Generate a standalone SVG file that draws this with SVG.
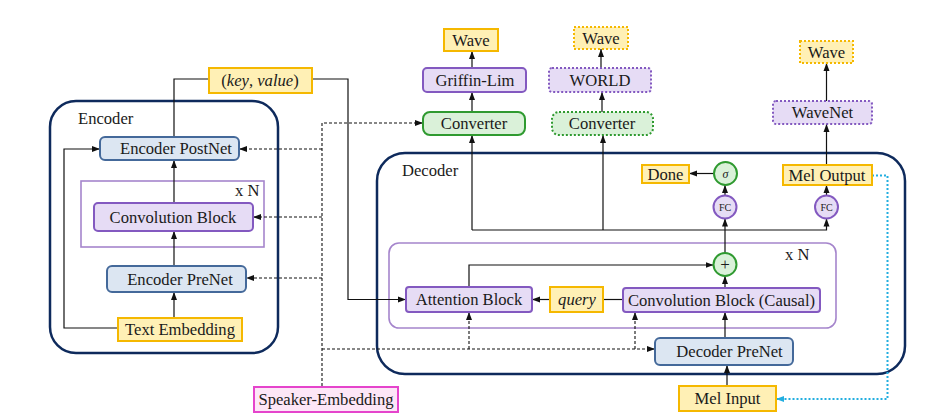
<svg xmlns="http://www.w3.org/2000/svg" width="942" height="420" viewBox="0 0 942 420">
<style>
.t{font-family:"Liberation Serif","Times New Roman",serif;font-size:16.6px;fill:#1a1a1a;text-anchor:middle}
.yel{fill:#fff0b5;stroke:#f5b800;stroke-width:2}
.blu{fill:#dce6f2;stroke:#44699a;stroke-width:2}
.pur{fill:#e6dcf5;stroke:#8359c0;stroke-width:2}
.grn{fill:#daf1d9;stroke:#2f9a30;stroke-width:2}
.dot{stroke-dasharray:2 2}
.outer{fill:none;stroke:#0e2a5c;stroke-width:2.5}
.rep{fill:none;stroke:#a585cc;stroke-width:1.6}
.ln{fill:none;stroke:#111;stroke-width:1.2}
.ds{fill:none;stroke:#111;stroke-width:1.1;stroke-dasharray:3 2}
.cy{fill:none;stroke:#22aee0;stroke-width:2;stroke-dasharray:2 2}
</style>
<defs>
<marker id="ah" viewBox="0 0 8 8" refX="8" refY="4" markerWidth="8" markerHeight="8" markerUnits="userSpaceOnUse" orient="auto"><path d="M0,1 L8,4 L0,7 z" fill="#111"/></marker>
<marker id="ahc" viewBox="0 0 8 8" refX="8" refY="4" markerWidth="8" markerHeight="8" markerUnits="userSpaceOnUse" orient="auto"><path d="M0,1 L8,4 L0,7 z" fill="#22aee0"/></marker>
</defs>
<rect width="942" height="420" fill="#fff"/>

<g id="encoder">
<rect class="outer" x="50" y="101" width="228" height="252" rx="26"/>
<text class="t" x="78" y="124" style="text-anchor:start">Encoder</text>
<rect class="rep" x="81" y="181" width="183" height="66"/>
<text class="t" x="235" y="196" style="text-anchor:start">x N</text>
</g>
<g id="decoder">
<rect class="outer" x="377" y="153" width="528" height="221" rx="28"/>
<text class="t" x="402" y="176" style="text-anchor:start">Decoder</text>
<rect class="rep" x="389" y="243" width="447" height="85" rx="10"/>
<text class="t" x="785" y="260" style="text-anchor:start">x N</text>
</g>

<g id="connectors">
<path class="ln" d="M174,318 V292" marker-end="url(#ah)"/>
<path class="ln" d="M174,266 V231" marker-end="url(#ah)"/>
<path class="ln" d="M174,203 V160" marker-end="url(#ah)"/>
<path class="ln" d="M118,328 H64 V149 H100" marker-end="url(#ah)"/>
<path class="ln" d="M174,137 V79 H209"/>
<path class="ln" d="M312,79 H348 V299.5 H406" marker-end="url(#ah)"/>
<path class="ds" d="M322,386 V123 H423" marker-end="url(#ah)"/>
<path class="ds" d="M322,149 H239" marker-end="url(#ah)"/>
<path class="ds" d="M322,217 H253" marker-end="url(#ah)"/>
<path class="ds" d="M322,278 H246" marker-end="url(#ah)"/>
<path class="ds" d="M322,349 H655" marker-end="url(#ah)"/>
<path class="ds" d="M469,349 V312" marker-end="url(#ah)"/>
<path class="ds" d="M635,349 V312" marker-end="url(#ah)"/>
<path class="ln" d="M472,68 V51" marker-end="url(#ah)"/>
<path class="ln" d="M472,112 V92" marker-end="url(#ah)"/>
<path class="ln" d="M472,230 V135" marker-end="url(#ah)"/>
<path class="ln" d="M603,230 V135" marker-end="url(#ah)"/>
<path class="ln" d="M601,68 V49" marker-end="url(#ah)"/>
<path class="ln" d="M602,112 V92" marker-end="url(#ah)"/>
<path class="ln" d="M472,230 H826.5 V218.5" marker-end="url(#ah)"/>
<path class="ln" d="M725,253 V218.5" marker-end="url(#ah)"/>
<path class="ln" d="M725,195.5 V185" marker-end="url(#ah)"/>
<path class="ln" d="M714,173.5 H689" marker-end="url(#ah)"/>
<path class="ln" d="M826.5,195.5 V185" marker-end="url(#ah)"/>
<path class="ln" d="M826.5,165 V124" marker-end="url(#ah)"/>
<path class="ln" d="M826.5,101 V63" marker-end="url(#ah)"/>
<path class="ln" d="M469,287 V265 H713.5" marker-end="url(#ah)"/>
<path class="ln" d="M725,288 V276" marker-end="url(#ah)"/>
<path class="ln" d="M725,338 V312" marker-end="url(#ah)"/>
<path class="ln" d="M727,386 V365" marker-end="url(#ah)"/>
<path class="ln" d="M623,299.5 H603"/>
<path class="ln" d="M550,299.5 H532" marker-end="url(#ah)"/>
<path class="cy" d="M872,175.5 H887.5 V399 H776" marker-end="url(#ahc)"/>
</g>

<g id="enc-postnet"><rect class="blu" x="100" y="137" width="139" height="23" rx="5"/><text class="t" x="176" y="154">Encoder PostNet</text></g>
<g id="enc-conv"><rect class="pur" x="94" y="203" width="159" height="28" rx="4"/><text class="t" x="173" y="222.5">Convolution Block</text></g>
<g id="enc-prenet"><rect class="blu" x="107" y="266" width="139" height="26" rx="5"/><text class="t" x="180" y="284.5">Encoder PreNet</text></g>
<g id="text-emb"><rect class="yel" x="118" y="318" width="124" height="23"/><text class="t" x="180" y="335">Text Embedding</text></g>
<g id="keyvalue"><rect class="yel" x="209" y="68" width="103" height="25"/><text class="t" x="260" y="86">(<tspan font-style="italic">key</tspan>, <tspan font-style="italic">value</tspan>)</text></g>
<g id="speaker"><rect x="254" y="387" width="144" height="25" fill="#fde6f7" stroke="#e544cc" stroke-width="2"/><text class="t" x="326" y="405">Speaker-Embedding</text></g>

<g id="wave1"><rect class="yel" x="444" y="29" width="54" height="22"/><text class="t" x="471" y="45.5">Wave</text></g>
<g id="griffin"><rect class="pur" x="423" y="68" width="103" height="24" rx="4"/><text class="t" x="475" y="85.5">Griffin-Lim</text></g>
<g id="converter1"><rect class="grn" x="423" y="112" width="102" height="23" rx="7"/><text class="t" x="474" y="129">Converter</text></g>
<g id="wave2"><rect class="yel dot" x="574" y="27" width="54" height="22"/><text class="t" x="601" y="43.5">Wave</text></g>
<g id="world"><rect class="pur dot" x="549" y="68" width="102" height="24" rx="3"/><text class="t" x="600" y="85.5">WORLD</text></g>
<g id="converter2"><rect class="grn dot" x="552" y="112" width="101" height="23" rx="7"/><text class="t" x="602" y="129">Converter</text></g>
<g id="wave3"><rect class="yel dot" x="800" y="41" width="53" height="22"/><text class="t" x="826.5" y="57.5">Wave</text></g>
<g id="wavenet"><rect class="pur dot" x="773" y="101" width="99" height="23" rx="3"/><text class="t" x="822.5" y="118">WaveNet</text></g>
<g id="mel-output"><rect class="yel" x="783" y="165" width="89" height="20"/><text class="t" x="827" y="180.5">Mel Output</text></g>
<g id="done"><rect class="yel" x="642" y="165" width="47" height="18"/><text class="t" x="665.5" y="179.5">Done</text></g>
<g id="sigma"><circle class="grn" cx="725.5" cy="173.5" r="11.5"/><text class="t" x="725.5" y="177.5" style="font-size:12px;font-style:italic">σ</text></g>
<g id="fc1"><circle class="pur" cx="725" cy="207" r="11.5"/><text class="t" x="725" y="210.5" style="font-size:10px">FC</text></g>
<g id="fc2"><circle class="pur" cx="826.5" cy="207" r="11.5"/><text class="t" x="826.5" y="210.5" style="font-size:10px">FC</text></g>
<g id="plus"><circle class="grn" cx="725" cy="264.5" r="11.5"/><text class="t" x="725" y="270" style="font-size:17px">+</text></g>
<g id="attention"><rect class="pur" x="406" y="287" width="126" height="25" rx="3"/><text class="t" x="469" y="305">Attention Block</text></g>
<g id="query"><rect class="yel" x="550" y="287" width="53" height="25"/><text class="t" x="577" y="305" font-style="italic">query</text></g>
<g id="dec-conv"><rect class="pur" x="623" y="288" width="197" height="24" rx="3"/><text class="t" x="721.5" y="305.5">Convolution Block (Causal)</text></g>
<g id="dec-prenet"><rect class="blu" x="655" y="338" width="138" height="27" rx="5"/><text class="t" x="729.5" y="357">Decoder PreNet</text></g>
<g id="mel-input"><rect class="yel" x="679" y="386" width="97" height="25"/><text class="t" x="727.5" y="403.5">Mel Input</text></g>
</svg>
